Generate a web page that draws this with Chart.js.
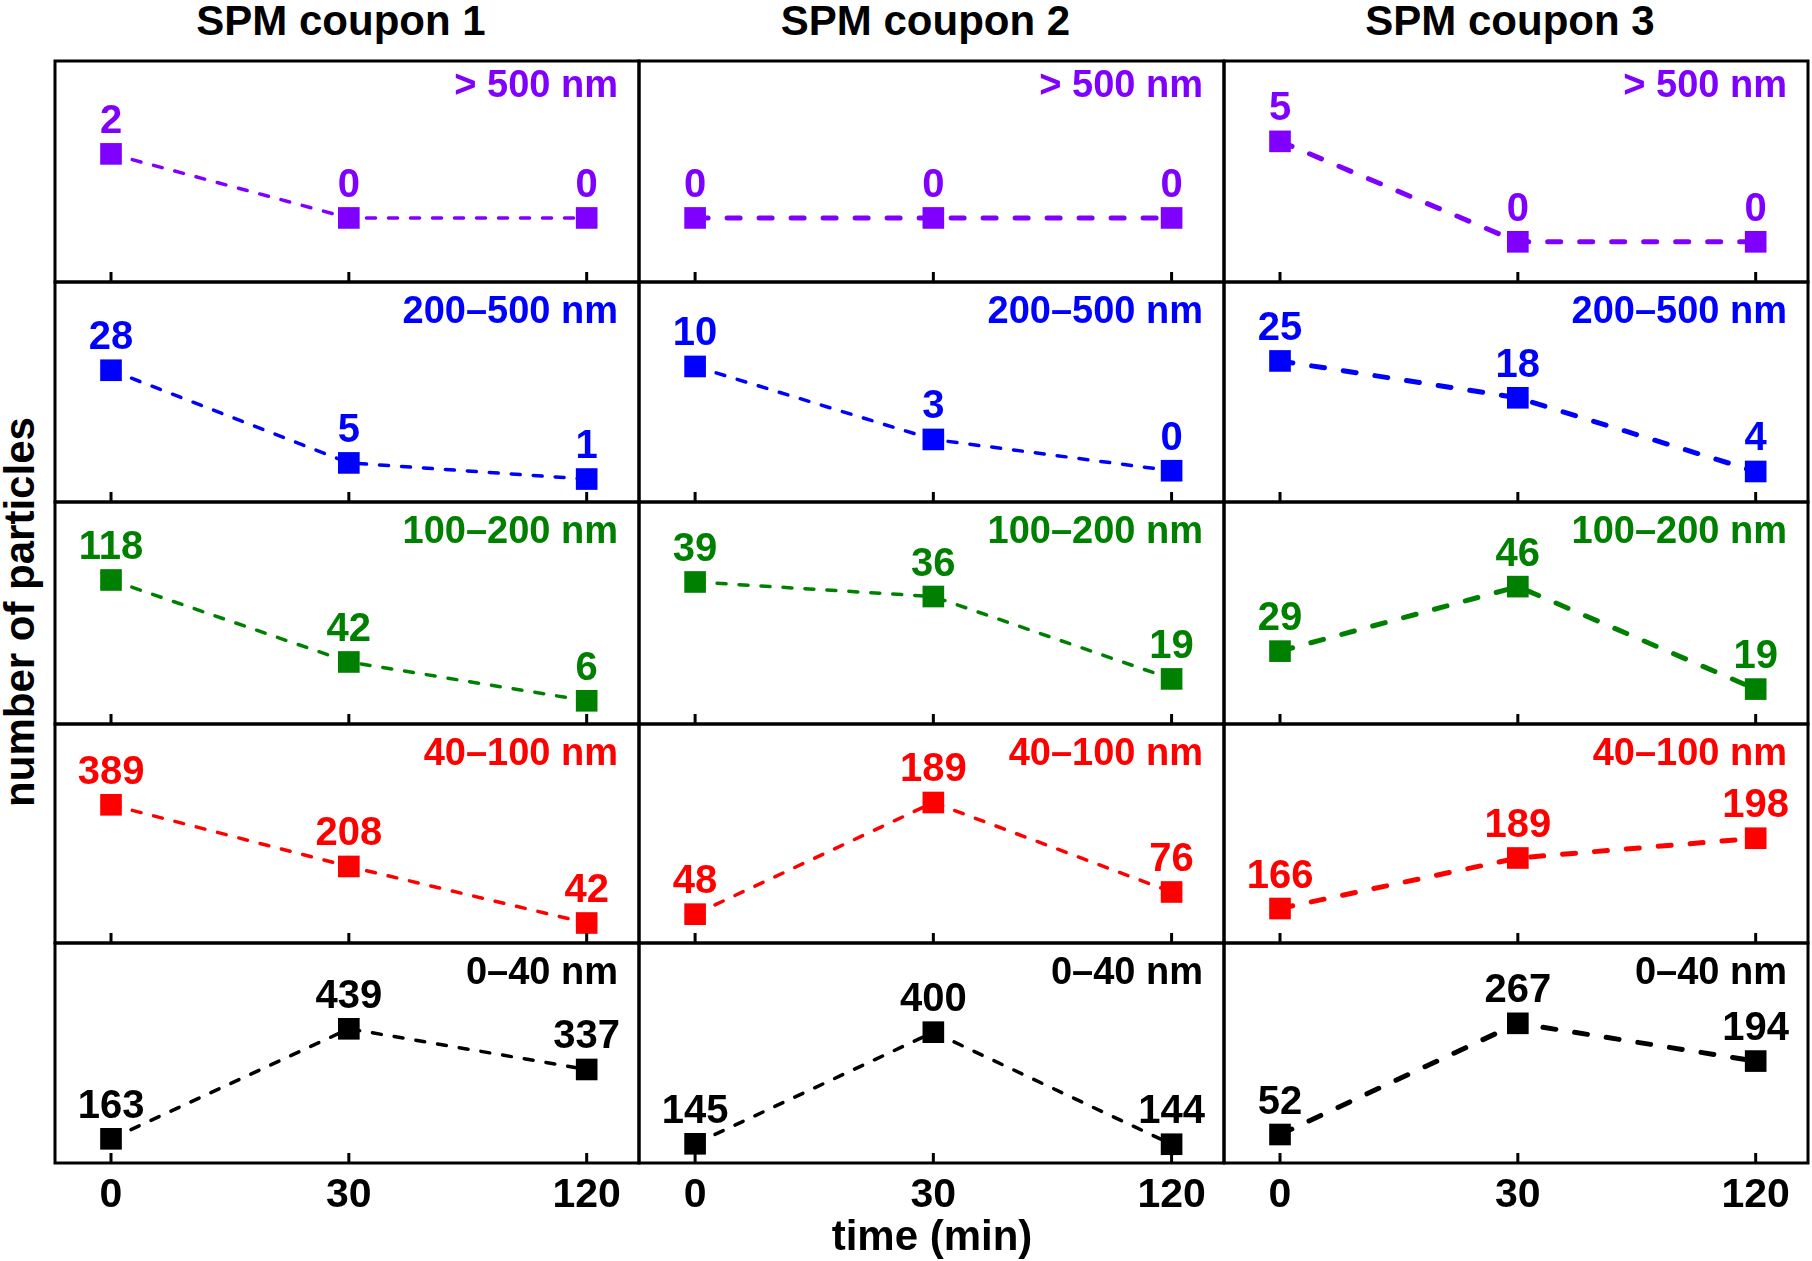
<!DOCTYPE html>
<html>
<head>
<meta charset="utf-8">
<title>SPM coupons particle counts</title>
<script src="https://cdn.jsdelivr.net/npm/chart.js@4.4.1/dist/chart.umd.min.js"></script>
<style>
  html, body { margin: 0; padding: 0; background: #fff; }
  body { width: 1812px; height: 1261px; position: relative; overflow: hidden;
         font-family: 'Liberation Sans', Arial, sans-serif; font-weight: bold; }
  canvas { position: absolute; }
  .lbl { position: absolute; font-size: 42px; line-height: 42px; white-space: nowrap; color: #000; }
</style>
</head>
<body>
<script>
const times = ['0', '30', '120'];
const coupons = ['SPM coupon 1', 'SPM coupon 2', 'SPM coupon 3'];
const sizeBins = ['> 500 nm', '200–500 nm', '100–200 nm', '40–100 nm', '0–40 nm'];

// particle counts per coupon at 0, 30 and 120 min
const over500 = [[2, 0, 0], [0, 0, 0], [5, 0, 0]];
const from200to500 = [[28, 5, 1], [10, 3, 0], [25, 18, 4]];
const from100to200 = [[118, 42, 6], [39, 36, 19], [29, 46, 19]];
const from40to100 = [[389, 208, 42], [48, 189, 76], [166, 189, 198]];
const from0to40 = [[163, 439, 337], [145, 400, 144], [52, 267, 194]];
const counts = [over500, from200to500, from100to200, from40to100, from0to40];

// y range of each panel (row = size bin, column = coupon)
const yMin = [[-2, -2, -2], [-4.7, -3, -1.8], [-15.5, 9.7, 9.8], [-16.7, 11.6, 150.3], [102.3, 101.1, -3.1]];
const yMax = [[4.9, 4.9, 9], [49.9, 18.1, 40], [190.3, 55.5, 68.3], [626.2, 288.1, 250], [654.3, 603.8, 422.3]];

const binColors = ['#8000ff', '#0000ff', '#008000', '#ff0000', '#000000'];
const colX = [55, 639, 1224, 1808];
const rowY = [61, 282, 502, 724, 943, 1163];
const PAD = 6;
const FONT = "'Liberation Sans', Arial, sans-serif";

// labels, frame and inner ticks of one panel
const panelPlugin = {
  id: 'panel',
  afterDraw(chart, args, opts) {
    const ctx = chart.ctx;
    const area = chart.chartArea;
    const xs = chart.scales.x;
    ctx.save();

    ctx.fillStyle = opts.color;
    ctx.font = 'bold 40px ' + FONT;
    ctx.textAlign = 'center';
    ctx.textBaseline = 'alphabetic';
    const pts = chart.getDatasetMeta(0).data;
    pts.forEach((pt, i) => {
      ctx.fillText(String(chart.data.datasets[0].data[i].y), pt.x, pt.y - 21);
    });

    ctx.font = 'bold 38px ' + FONT;
    ctx.textAlign = 'right';
    ctx.fillText(opts.bin, area.right - 21, area.top + opts.binOffset);

    ctx.strokeStyle = '#000';
    ctx.lineWidth = 3;
    ctx.strokeRect(area.left, area.top, area.right - area.left, area.bottom - area.top);

    ctx.fillStyle = '#000';
    ctx.font = 'bold 41px ' + FONT;
    ctx.textAlign = 'center';
    times.forEach((t, i) => {
      const x = xs.getPixelForValue(i);
      ctx.beginPath();
      ctx.moveTo(x, area.bottom);
      ctx.lineTo(x, area.bottom - 10);
      ctx.stroke();
      if (opts.showTicks) ctx.fillText(t, x, area.bottom + 44);
    });
    ctx.restore();
  }
};

for (let r = 0; r < sizeBins.length; r++) {
  for (let c = 0; c < coupons.length; c++) {
    const extra = r === sizeBins.length - 1 ? 60 : 0;
    const w = colX[c + 1] - colX[c] + 2 * PAD;
    const h = rowY[r + 1] - rowY[r] + 2 * PAD + extra;
    const canvas = document.createElement('canvas');
    canvas.width = w;
    canvas.height = h;
    canvas.style.width = w + 'px';
    canvas.style.height = h + 'px';
    canvas.style.left = (colX[c] - PAD) + 'px';
    canvas.style.top = (rowY[r] - PAD) + 'px';
    document.body.appendChild(canvas);

    const color = binColors[r];
    const heavy = c === 2 || (r === 0 && c === 1);
    const values = counts[r][c];

    new Chart(canvas, {
      type: 'line',
      data: {
        datasets: [{
          data: values.map((v, i) => ({ x: i, y: v })),
          borderColor: color,
          backgroundColor: color,
          borderWidth: heavy ? 5 : 3.5,
          borderDash: heavy ? [13, 19] : [9, 13],
          borderCapStyle: 'round',
          pointStyle: 'rect',
          pointRadius: 15.3,
          pointBorderWidth: 0,
          pointBackgroundColor: color,
          tension: 0,
          fill: false,
          clip: false
        }]
      },
      options: {
        responsive: false,
        animation: false,
        devicePixelRatio: 1,
        layout: {
          autoPadding: false,
          padding: { left: PAD, right: PAD, top: PAD, bottom: PAD + extra }
        },
        scales: {
          x: { type: 'linear', display: false, min: -0.2355, max: 2.22 },
          y: { display: false, min: yMin[r][c], max: yMax[r][c] }
        },
        plugins: {
          legend: { display: false },
          tooltip: { enabled: false },
          panel: { color: color, bin: sizeBins[r], binOffset: r === 0 ? 36 : 41, showTicks: extra > 0 }
        }
      },
      plugins: [panelPlugin]
    });
  }
}

// column titles and axis titles
coupons.forEach((name, c) => {
  const d = document.createElement('div');
  d.className = 'lbl';
  d.textContent = name;
  d.style.left = ((colX[c] + colX[c + 1]) / 2 - 6) + 'px';
  d.style.top = '0px';
  d.style.transform = 'translateX(-50%)';
  document.body.appendChild(d);
});

const xTitle = document.createElement('div');
xTitle.className = 'lbl';
xTitle.textContent = 'time (min)';
xTitle.style.left = '932px';
xTitle.style.top = '1215px';
xTitle.style.transform = 'translateX(-50%)';
document.body.appendChild(xTitle);

const yTitle = document.createElement('div');
yTitle.className = 'lbl';
yTitle.textContent = 'number of particles';
yTitle.style.left = '20px';
yTitle.style.top = '612px';
yTitle.style.transform = 'translate(-50%, -50%) rotate(-90deg)';
document.body.appendChild(yTitle);
</script>
</body>
</html>
